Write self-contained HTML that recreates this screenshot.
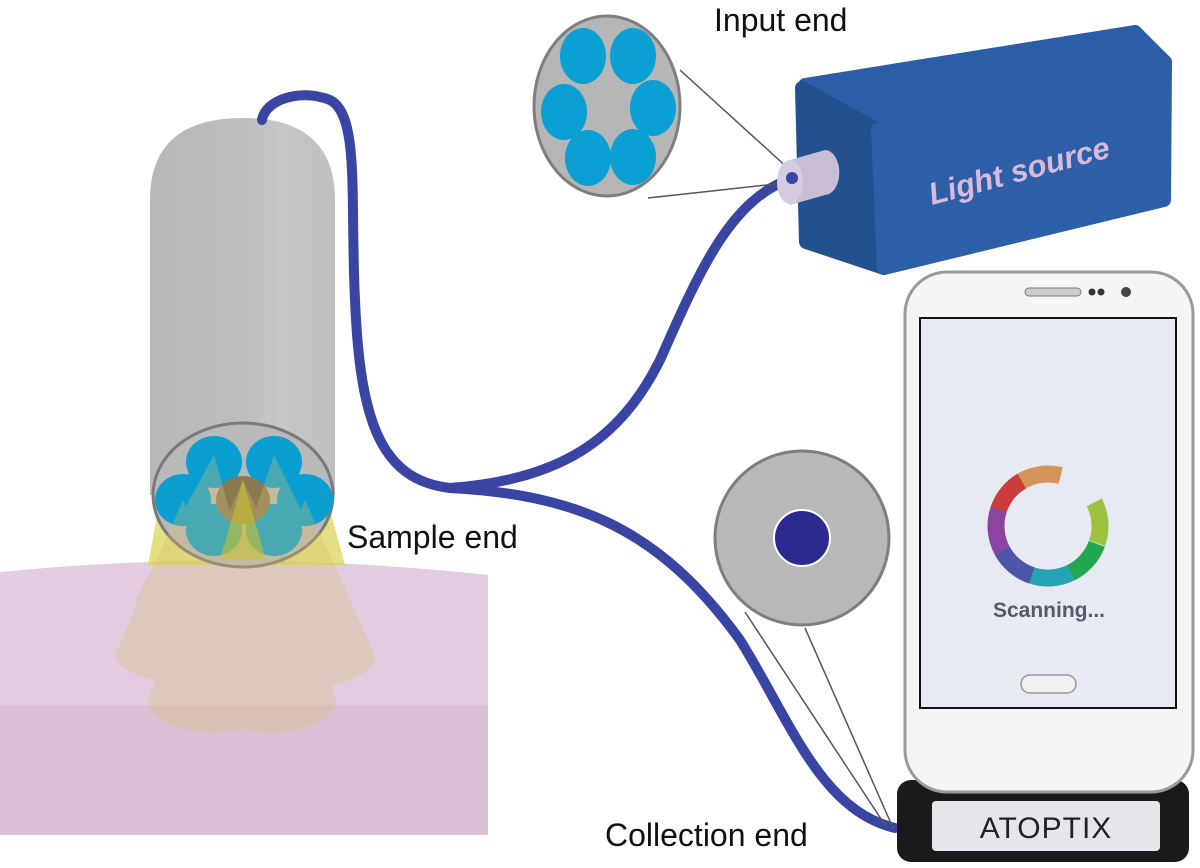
<!DOCTYPE html>
<html><head><meta charset="utf-8"><style>
html,body{margin:0;padding:0;background:#fff;}
svg{display:block;font-family:"Liberation Sans",sans-serif;}
</style></head><body>
<svg width="1200" height="868" viewBox="0 0 1200 868" xmlns="http://www.w3.org/2000/svg">
<defs>
<linearGradient id="cyl" x1="0" x2="1" y1="0" y2="0">
<stop offset="0" stop-color="#b8b8b8"/><stop offset="0.5" stop-color="#bdbdbd"/><stop offset="0.7" stop-color="#c6c6c6"/><stop offset="1" stop-color="#c0c0c0"/>
</linearGradient>
</defs>
<!-- tissue -->
<path d="M0,572 Q240,548 488,575 V835 H0 Z" fill="#e3cce0"/>
<rect x="0" y="705" width="488" height="130" fill="#dcc0d6"/>
<!-- cylinder -->
<path d="M150,200 Q150,118 243,118 Q335,118 335,200 V495 H150 Z" fill="url(#cyl)"/>
<!-- yellow beams above tissue -->
<polygon points="158,510 330,510 345,565 148,565" fill="#d9d24a" opacity="0.7"/>
<!-- bundle end -->
<ellipse cx="243" cy="495" rx="90" ry="72" fill="#b9b9b9" stroke="#7a7a7a" stroke-width="3"/>
<g fill="#0a9fd0">
<ellipse cx="214" cy="462" rx="28" ry="26"/><ellipse cx="274" cy="462" rx="28" ry="26"/>
<ellipse cx="183" cy="500" rx="28" ry="26"/><ellipse cx="305" cy="500" rx="28" ry="26"/>
<ellipse cx="214" cy="530" rx="28" ry="26"/><ellipse cx="274" cy="530" rx="28" ry="26"/>
</g>
<ellipse cx="243" cy="500" rx="27" ry="24" fill="#8a7a50"/>
<!-- cones -->
<g fill="#d9c070" opacity="0.3">
<path d="M214,455 L135,600 A62,28 0 0 0 255,600 Z"/>
<path d="M274,455 L225,600 A62,28 0 0 0 345,600 Z"/>
<path d="M183,500 L115,655 A68,32 0 0 0 250,655 Z"/>
<path d="M305,500 L238,655 A68,32 0 0 0 375,655 Z"/>
<path d="M214,530 L148,700 A65,32 0 0 0 278,700 Z"/>
<path d="M274,530 L206,700 A65,32 0 0 0 336,700 Z"/>
<path d="M243,480 L200,580 A45,20 0 0 0 290,580 Z"/>
</g>
<polygon points="243,480 220,560 266,560" fill="#c8c030" opacity="0.6"/>
<!-- fiber cables -->
<g fill="none" stroke="#3a45a3" stroke-width="10" stroke-linecap="round">
<path d="M262,120 C265,100 300,88 330,100 C360,115 350,200 355,300 C360,420 380,480 450,488"/>
<path d="M450,488 C560,480 620,440 660,360 C700,270 730,200 792,178"/>
<path d="M450,488 C580,495 660,530 740,640 C790,720 820,810 895,828"/>
</g>
<!-- input end zoom -->
<line x1="680" y1="70" x2="790" y2="170" stroke="#555" stroke-width="1.5"/>
<line x1="648" y1="198" x2="785" y2="183" stroke="#555" stroke-width="1.5"/>
<ellipse cx="607" cy="106" rx="73" ry="90" fill="#b6b6b6" stroke="#7e7e7e" stroke-width="3"/>
<g fill="#0aa0d4">
<ellipse cx="583" cy="56" rx="23" ry="28"/><ellipse cx="633" cy="56" rx="23" ry="28"/>
<ellipse cx="564" cy="112" rx="23" ry="28"/><ellipse cx="653" cy="108" rx="23" ry="28"/>
<ellipse cx="588" cy="158" rx="23" ry="28"/><ellipse cx="633" cy="157" rx="23" ry="28"/>
</g>
<!-- light source box -->
<g stroke-linejoin="round" stroke-width="14">
<polygon points="805,85 1135,32 1165,62 878,130" fill="#2b5ea6" stroke="#2b5ea6"/>
<polygon points="802,88 878,130 884,268 806,242" fill="#23518f" stroke="#23518f"/>
<polygon points="878,130 1165,62 1164,200 884,268" fill="#2c5fa8" stroke="#2c5fa8"/>
</g>
<text x="0" y="0" transform="translate(932,205) rotate(-15)" font-size="31" font-weight="bold" font-style="italic" fill="#d7b9d9">Light source</text>
<!-- connector -->
<path d="M790,160 L825,150 A14,22 0 0 1 825,195 L790,205 Z" fill="#c9bdd6"/>
<ellipse cx="790" cy="182" rx="13" ry="22" fill="#d6cce2"/>
<circle cx="792" cy="178" r="6" fill="#3a45a3"/>
<!-- collection end zoom -->
<line x1="745" y1="612" x2="885" y2="825" stroke="#555" stroke-width="1.5"/>
<line x1="805" y1="628" x2="893" y2="828" stroke="#555" stroke-width="1.5"/>
<circle cx="802" cy="538" r="87" fill="#b8b8b8" stroke="#7e7e7e" stroke-width="3"/>
<circle cx="802" cy="538" r="28" fill="#2d2a8f" stroke="#fff" stroke-width="2"/>
<!-- phone dock -->
<rect x="897" y="780" width="292" height="82" rx="14" fill="#1a1a1a"/>
<rect x="932" y="801" width="228" height="50" rx="4" fill="#e5e6ec"/>
<text x="1046" y="838" font-size="30" text-anchor="middle" fill="#222" letter-spacing="1">ATOPTIX</text>
<!-- phone -->
<rect x="905" y="272" width="288" height="520" rx="42" fill="#f5f5f5" stroke="#9a9a9a" stroke-width="3"/>
<rect x="920" y="318" width="256" height="390" fill="#e8eaf3" stroke="#111" stroke-width="2"/>
<rect x="1025" y="288" width="56" height="8" rx="4" fill="#ccc" stroke="#777"/>
<circle cx="1092" cy="292" r="3.5" fill="#333"/><circle cx="1101" cy="292" r="3.5" fill="#333"/>
<circle cx="1126" cy="292" r="5" fill="#444"/>
<rect x="1021" y="675" width="55" height="18" rx="9" fill="#f0f0f0" stroke="#999" stroke-width="1.5"/>
<!-- ring -->
<g fill="none" stroke-width="17" transform="translate(1048,526)">
<circle r="52" stroke="#d4955a" stroke-dasharray="40 400" transform="rotate(-120)"/>
<circle r="52" stroke="#cc3c3c" stroke-dasharray="38 400" transform="rotate(-162)"/>
<circle r="52" stroke="#8b44a0" stroke-dasharray="42 400" transform="rotate(152)"/>
<circle r="52" stroke="#4b56a8" stroke-dasharray="40 400" transform="rotate(108)"/>
<circle r="52" stroke="#23a3b3" stroke-dasharray="40 400" transform="rotate(64)"/>
<circle r="52" stroke="#1fa84f" stroke-dasharray="40 400" transform="rotate(20)"/>
<circle r="52" stroke="#9fc23f" stroke-dasharray="42 400" transform="rotate(-27)"/>
</g>
<text x="1049" y="617" font-size="21" font-weight="bold" text-anchor="middle" fill="#555a6a">Scanning...</text>
<!-- labels -->
<text x="714" y="31" font-size="32" fill="#111">Input end</text>
<text x="347" y="548" font-size="32" fill="#111">Sample end</text>
<text x="605" y="846" font-size="32" fill="#111">Collection end</text>
</svg>
</body></html>
